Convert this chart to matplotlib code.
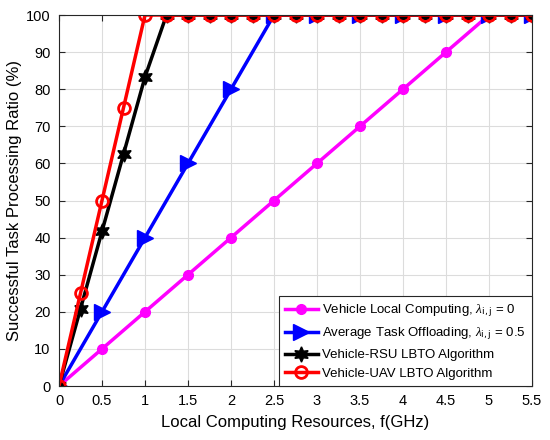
import numpy as np
import matplotlib
matplotlib.use('Agg')
import matplotlib.pyplot as plt

plt.rcParams['font.family'] = ['Liberation Sans', 'DejaVu Sans']
plt.rcParams['mathtext.fontset'] = 'custom'
plt.rcParams['mathtext.it'] = 'Liberation Serif:italic'

# coarse grid (step 0.5 GHz)
f_coarse = [0, 0.5, 1, 1.5, 2, 2.5, 3, 3.5, 4, 4.5, 5, 5.5]
local_ratio = [0, 10, 20, 30, 40, 50, 60, 70, 80, 90, 100, 100]
avg_offload_ratio = [0, 20, 40, 60, 80, 100, 100, 100, 100, 100, 100, 100]

# fine grid (step 0.25 GHz)
f_fine = [0, 0.25, 0.5, 0.75, 1, 1.25, 1.5, 1.75, 2, 2.25, 2.5, 2.75,
          3, 3.25, 3.5, 3.75, 4, 4.25, 4.5, 4.75, 5, 5.25, 5.5]
rsu_ratio = [0, 20.8, 41.7, 62.5, 83.3] + [100] * 18
uav_ratio = [0, 25, 50, 75] + [100] * 19

x_ticks = [0, 0.5, 1, 1.5, 2, 2.5, 3, 3.5, 4, 4.5, 5, 5.5]
x_tick_labels = ['0', '0.5', '1', '1.5', '2', '2.5', '3', '3.5', '4', '4.5', '5', '5.5']
y_ticks = list(range(0, 101, 10))

fig = plt.figure(figsize=(5.5, 4.4), dpi=100)
ax = fig.add_axes([59 / 550, 54 / 440, 473 / 550, 371 / 440])

ax.plot(f_coarse, local_ratio, color='magenta', lw=2.5, marker='o',
        ms=7, label=r'Vehicle Local Computing, $\lambda_{\mathrm{i,j}}$ = 0')
ax.plot(f_coarse, avg_offload_ratio, color='blue', lw=2.5, marker='>',
        ms=11, label=r'Average Task Offloading, $\lambda_{\mathrm{i,j}}$ = 0.5')
ax.plot(f_fine, rsu_ratio, color='black', lw=2.5, marker=(6, 1, 0),
        ms=11, label='Vehicle-RSU LBTO Algorithm')
ax.plot(f_fine, uav_ratio, color='red', lw=2.5, marker='o', ms=8.5,
        mfc='none', mew=2, label='Vehicle-UAV LBTO Algorithm')

ax.set_xlim(0, 5.5)
ax.set_ylim(0, 100)
ax.set_xticks(x_ticks)
ax.set_xticklabels(x_tick_labels)
ax.set_yticks(y_ticks)
ax.tick_params(direction='in', labelsize=10.5, top=True, right=True,
               length=4, color='#262626', pad=6)
ax.grid(True, color='#dcdcdc', lw=0.8)
ax.set_axisbelow(True)
for s in ax.spines.values():
    s.set_color('#262626')
    s.set_linewidth(0.8)

ax.set_xlabel('Local Computing Resources, f(GHz)', fontsize=12, labelpad=5)
ax.set_ylabel('Successful Task Processing Ratio (%)', fontsize=12, labelpad=3)

leg = ax.legend(loc='lower right', fontsize=9.5, fancybox=False,
                framealpha=1, edgecolor='#262626', borderpad=0.45,
                labelspacing=0.5, handlelength=2.5, handletextpad=0.35,
                borderaxespad=0.0)
leg.get_frame().set_linewidth(0.8)

fig.savefig('out.png', dpi=100)
